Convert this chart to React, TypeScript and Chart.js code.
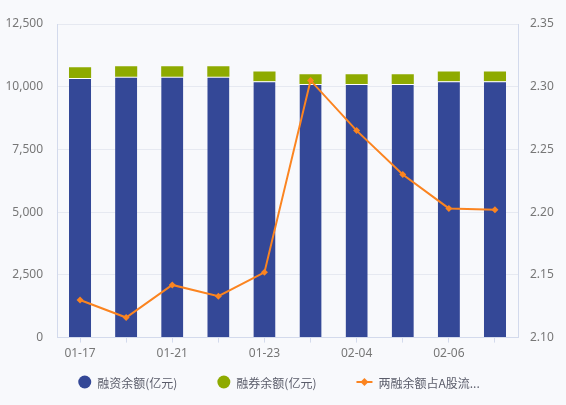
import React, { useEffect, useRef } from "react";
import { Chart, registerables } from "chart.js";

Chart.register(...registerables);

const categories = ["01-17", "01-20", "01-21", "01-22", "01-23", "01-24", "02-04", "02-05", "02-06", "02-07"];
const financing = [10350, 10400, 10400, 10400, 10215, 10110, 10110, 10110, 10215, 10215];
const securitiesLending = [425, 415, 415, 415, 390, 385, 385, 385, 390, 390];
const ratio = [2.130, 2.116, 2.142, 2.133, 2.152, 2.305, 2.265, 2.230, 2.203, 2.202];

const seriesNames = ["融资余额(亿元)", "融券余额(亿元)", "两融余额占A股流..."];
const leftTicks = [0, 2500, 5000, 7500, 10000, 12500];
const rightTicks = [2.10, 2.15, 2.20, 2.25, 2.30, 2.35];

const BLUE = "#344897";
const GREEN = "#8eaa00";
const ORANGE = "#fb8420";
const FONT = "'Noto Sans', 'Noto Sans CJK SC', sans-serif";
const LEGEND_FONT = "12px 'Noto Sans CJK SC', sans-serif";

const customLegend = {
  id: "customLegend",
  afterDraw(chart: any) {
    const ctx = chart.ctx as CanvasRenderingContext2D;
    const datasets = chart.data.datasets;
    ctx.save();
    ctx.font = LEGEND_FONT;
    ctx.textBaseline = "middle";
    ctx.textAlign = "left";
    const markerW = (ds: any) => (ds.type === "line" ? 16 : 13);
    const markerGap = 6;
    const itemGap = 40;
    const widths = datasets.map((ds: any) => markerW(ds) + markerGap + ctx.measureText(ds.label).width);
    const total = widths.reduce((a: number, b: number) => a + b, 0) + itemGap * (datasets.length - 1);
    let x = chart.width / 2 - 4 - total / 2;
    const y = 382;
    datasets.forEach((ds: any, i: number) => {
      const color = ds.type === "line" ? ds.borderColor : ds.backgroundColor;
      const w = markerW(ds);
      if (ds.type === "line") {
        ctx.strokeStyle = color;
        ctx.lineWidth = 2;
        ctx.beginPath();
        ctx.moveTo(x, y);
        ctx.lineTo(x + w, y);
        ctx.stroke();
        ctx.fillStyle = color;
        const cx = x + w / 2;
        ctx.beginPath();
        ctx.moveTo(cx, y - 4);
        ctx.lineTo(cx + 4, y);
        ctx.lineTo(cx, y + 4);
        ctx.lineTo(cx - 4, y);
        ctx.closePath();
        ctx.fill();
      } else {
        ctx.fillStyle = color;
        ctx.beginPath();
        ctx.arc(x + w / 2, y, w / 2, 0, Math.PI * 2);
        ctx.fill();
      }
      ctx.fillStyle = "#5a5c6a";
      ctx.fillText(ds.label, x + w + markerGap, y + 1);
      x += widths[i] + itemGap;
    });
    ctx.restore();
  },
};

export default function App() {
  const ref = useRef<HTMLCanvasElement | null>(null);

  useEffect(() => {
    document.body.style.margin = "0";
    document.body.style.background = "#f8f9fc";
    const canvas = ref.current!;

    const chart = new Chart(canvas, {
      type: "bar",
      data: {
        labels: categories,
        datasets: [
          {
            type: "bar",
            label: seriesNames[0],
            data: financing,
            backgroundColor: BLUE,
            borderColor: "rgba(255,255,255,0.7)",
            borderWidth: { top: 1, left: 0, right: 0, bottom: 0 },
            borderSkipped: false,
            stack: "s",
            yAxisID: "y",
            order: 2,
            barPercentage: 0.48,
            categoryPercentage: 1,
          },
          {
            type: "bar",
            label: seriesNames[1],
            data: securitiesLending,
            backgroundColor: GREEN,
            borderWidth: 0,
            stack: "s",
            yAxisID: "y",
            order: 2,
            barPercentage: 0.48,
            categoryPercentage: 1,
          },
          {
            type: "line",
            label: seriesNames[2],
            data: ratio,
            borderColor: ORANGE,
            backgroundColor: ORANGE,
            borderWidth: 2,
            pointStyle: "rectRot",
            pointRadius: 3.5,
            pointBorderWidth: 0,
            yAxisID: "y1",
            order: 1,
            tension: 0,
          },
        ],
      },
      plugins: [customLegend],
      options: {
        responsive: false,
        animation: false,
        layout: { padding: { top: 24, left: 0, right: 0, bottom: 40 } },
        plugins: {
          tooltip: { enabled: false },
          legend: { display: false },
        },
        scales: {
          x: {
            stacked: true,
            offset: true,
            grid: {
              offset: false,
              drawOnChartArea: false,
              drawTicks: true,
              tickLength: 5,
              color: "#d3daec",
            },
            border: { color: "#d3daec" },
            ticks: {
              autoSkip: false,
              maxRotation: 0,
              color: "#777",
              font: { family: FONT, size: 12 },
              padding: 4,
              callback: (_v: any, i: number) => (i % 2 === 0 ? categories[i] : ""),
            },
          },
          y: {
            type: "linear",
            position: "left",
            stacked: true,
            min: 0,
            max: 12500,
            afterBuildTicks: (s: any) => {
              s.ticks = leftTicks.map((v) => ({ value: v }));
            },
            afterFit: (s: any) => {
              s.width = 57;
            },
            grid: { color: "#e6e9f1", drawTicks: false },
            border: { color: "#d3daec" },
            ticks: {
              color: "#777",
              padding: 14,
              font: { family: FONT, size: 12 },
              callback: (v: any) => Number(v).toLocaleString("en-US"),
            },
          },
          y1: {
            type: "linear",
            position: "right",
            min: 2.1,
            max: 2.35,
            afterBuildTicks: (s: any) => {
              s.ticks = rightTicks.map((v) => ({ value: v }));
            },
            afterFit: (s: any) => {
              s.width = 48;
            },
            grid: { drawOnChartArea: false, drawTicks: false },
            border: { color: "#d3daec" },
            ticks: {
              color: "#777",
              padding: 12,
              font: { family: FONT, size: 12 },
              callback: (v: any) => Number(v).toFixed(2),
            },
          },
        },
      },
    } as any);

    return () => chart.destroy();
  }, []);

  return (
    <div style={{ width: 566, height: 405, background: "#f8f9fc" }}>
      <canvas ref={ref} width={566} height={405} />
    </div>
  );
}
